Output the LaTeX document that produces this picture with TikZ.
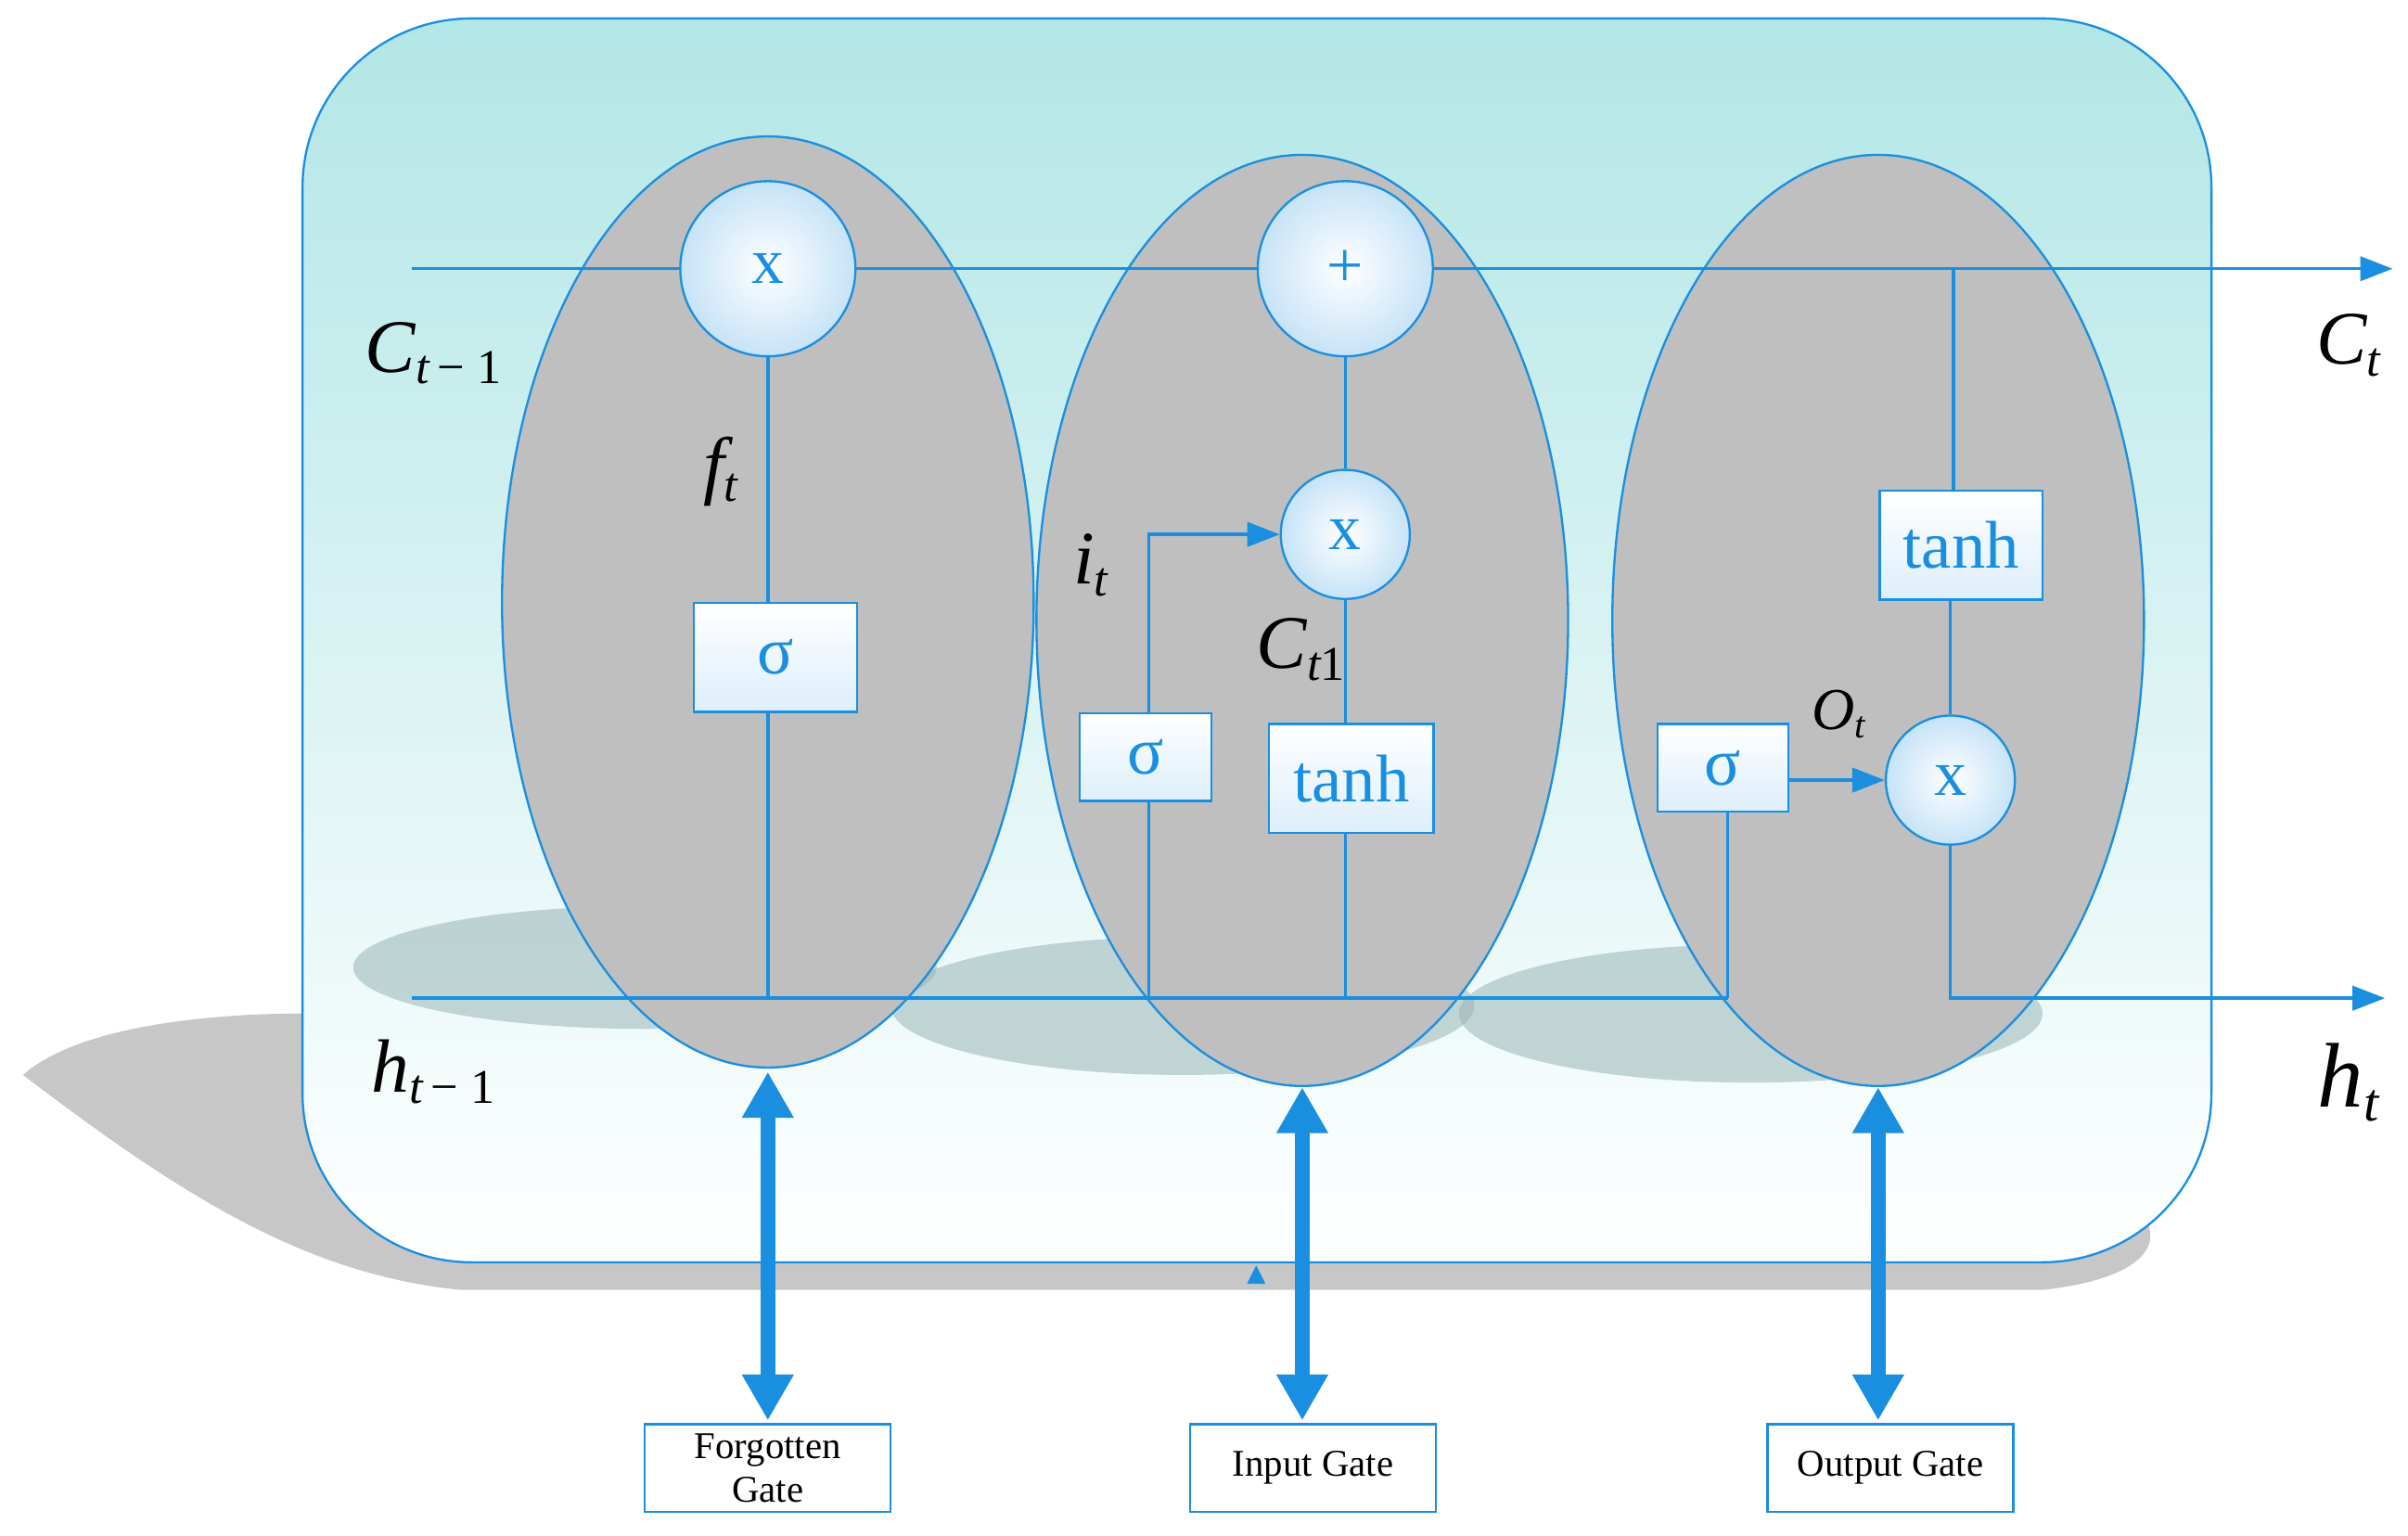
\documentclass[tikz,border=0pt]{standalone}
\usepackage{fontspec}
\setmainfont{Liberation Serif}
\usetikzlibrary{arrows.meta,shapes.geometric,shadings}
\definecolor{bl}{HTML}{1A8FE0}
\definecolor{gr}{HTML}{BFBFBF}
\begin{document}
\begin{tikzpicture}[x=0.01cm,y=-0.01cm,
  gate/.style={ellipse,draw=bl,fill=gr,minimum width=3.46cm,minimum height=6.06cm,inner sep=0},
  op/.style={circle,draw=bl,inner sep=0,text=bl,font=\fontsize{12}{12}\selectfont,shading=radial,inner color=white,outer color=bl!25},
  box/.style={draw=bl,inner sep=0,text=bl,font=\fontsize{12.5}{12.5}\selectfont,top color=white,bottom color=bl!15},
  lab/.style={font=\fontsize{14}{14}\selectfont\itshape},
  ln/.style={bl,line width=0.6pt},
  dbl/.style={bl,line width=2.8pt,{Triangle[length=8.5pt,width=9pt]}-{Triangle[length=8.5pt,width=9pt]}},
  gb/.style={draw=bl,text=black,align=center,font=\fontsize{7}{8}\selectfont,minimum width=1.6cm,minimum height=0.57cm,inner sep=0}]
\useasboundingbox (0,0) rectangle (1568,1000);
% outer shadow
\fill[black!22] (15,700) .. controls (60,660) and (180,660) .. (197,660) -- (1350,760) .. controls (1420,790) and (1420,830) .. (1330,840) -- (300,840) .. controls (200,830) and (120,780) .. (15,700) -- cycle;
% cell
\shade[top color=cyan!35!teal!30,bottom color=white,draw=bl,rounded corners=1.1cm] (197,12) rectangle (1440,822);
\fill[black!45!teal!40,opacity=.55] (420,630) ellipse [x radius=190,y radius=40];
\fill[black!45!teal!40,opacity=.55] (770,655) ellipse [x radius=190,y radius=45];
\fill[black!45!teal!40,opacity=.55] (1140,660) ellipse [x radius=190,y radius=45];
% gates
\node[gate] (g1) at (500,392) {};
\node[gate] (g2) at (848,404) {};
\node[gate] (g3) at (1223,404) {};
% ops
\node[op,minimum size=1.14cm] (m1) at (500,175) {x};
\node[op,minimum size=1.14cm] (p) at (876,175) {+};
\node[op,minimum size=0.84cm] (m2) at (876,348) {x};
\node[op,minimum size=0.84cm] (m3) at (1270,508) {x};
\node[box,minimum width=1.06cm,minimum height=0.71cm] (s1) at (505,428) {σ};
\node[box,minimum width=0.86cm,minimum height=0.57cm] (s2) at (746,493) {σ};
\node[box,minimum width=1.07cm,minimum height=0.71cm] (t2) at (880,507) {tanh};
\node[box,minimum width=1.06cm,minimum height=0.71cm] (t3) at (1277,355) {tanh};
\node[box,minimum width=0.85cm,minimum height=0.57cm] (s3) at (1122,500) {σ};
% coordinates
\coordinate (cs) at (268,175); \coordinate (ce) at (1558,175);
\coordinate (hs) at (268,650); \coordinate (he) at (1125,650);
\coordinate (ho) at (1553,650);
\coordinate (b1) at (500,650); \coordinate (b2) at (748,650); \coordinate (b3) at (876,650);
\coordinate (k2) at (748,348); \coordinate (ct) at (1272,175);
\coordinate (m3b) at (1270,650);
% lines
\draw[ln] (cs) -- (m1) -- (p);
\draw[ln,-{Triangle[length=6pt,width=4.5pt]}] (p) -- (ce);
\draw[ln] (hs) -- (he);
\draw[ln] (m1) -- (s1.north -| m1); \draw[ln] (s1.south -| b1) -- (b1);
\draw[ln] (748,522) -- (b2);
\draw[ln,-{Triangle[length=6pt,width=4.5pt]}] (748,465) -- (k2) -- (m2);
\draw[ln] (p) -- (m2) -- (t2.north -| m2);
\draw[ln] (t2.south -| b3) -- (b3);
\draw[ln] (ct) -- (t3.north -| ct); \draw[ln] (t3.south -| m3) -- (m3);
\draw[ln,-{Triangle[length=6pt,width=4.5pt]}] (s3.east |- m3) -- (m3);
\draw[ln] (1125,529) -- (he);
\draw[ln,-{Triangle[length=6pt,width=4.5pt]}] (m3) -- (m3b) -- (ho);
% labels
\node[lab] (l1) at (283,230) {C\textsubscript{\fontsize{9}{9}\selectfont t\,\upshape − 1}};
\node[lab] (l2) at (470,307) {f\textsubscript{\fontsize{9}{9}\selectfont t}};
\node[lab] (l3) at (711,368) {i\textsubscript{\fontsize{9}{9}\selectfont t}};
\node[lab] (l4) at (848,423) {C\textsubscript{\fontsize{9}{9}\selectfont t\upshape 1}};
\node[lab,font=\fontsize{11}{11}\selectfont\itshape] (l5) at (1198,465) {O\textsubscript{\fontsize{7}{7}\selectfont t}};
\node[lab] (l6) at (1530,225) {C\textsubscript{\fontsize{9}{9}\selectfont t}};
\node[lab] (l7) at (283,698) {h\textsubscript{\fontsize{9}{9}\selectfont t\,\upshape − 1}};
\node[lab,font=\fontsize{17}{17}\selectfont\itshape] (l8) at (1530,705) {h\textsubscript{\fontsize{10}{10}\selectfont t}};
% gate boxes
\node[gb] (f) at (500,956) {Forgotten\\Gate};
\node[gb] (i) at (855,956) {Input Gate};
\node[gb] (o) at (1231,956) {Output Gate};
\draw[dbl] (500,698) -- (500,925);
\draw[dbl] (848,708) -- (848,925);
\draw[dbl] (1223,708) -- (1223,925);
\fill[bl] (812,836) -- (824,836) -- (818,824) -- cycle;
\end{tikzpicture}
\end{document}
